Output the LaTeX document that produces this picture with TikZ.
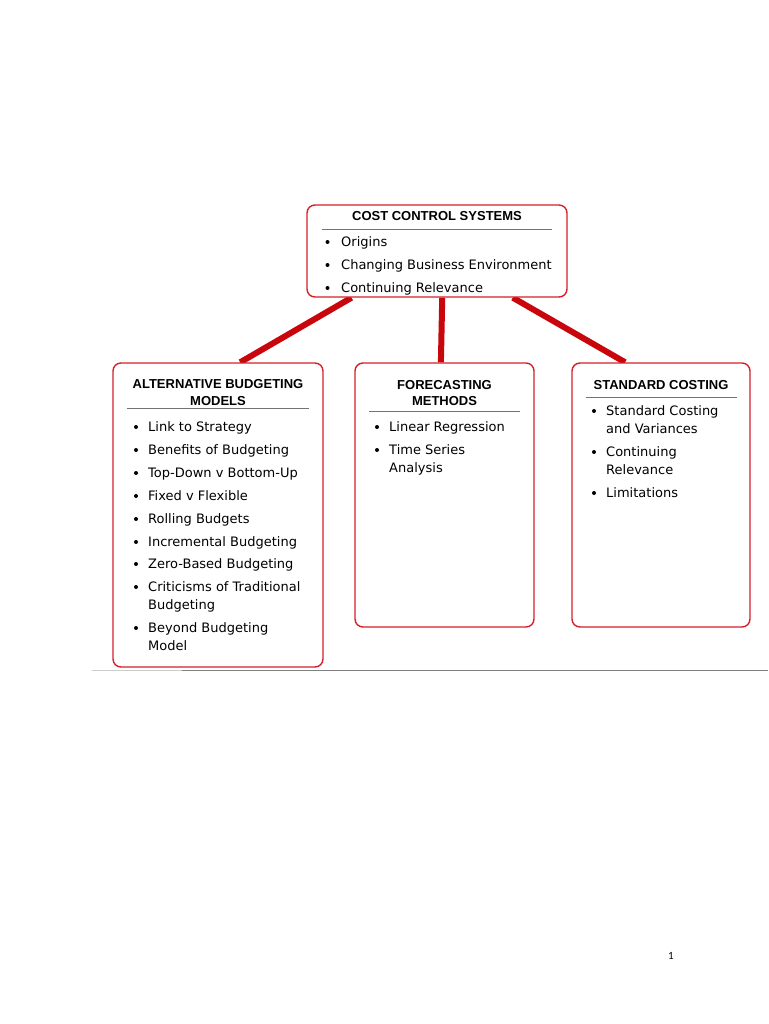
\documentclass[tikz,border=0pt]{standalone}
\usepackage{fontspec}
\setmainfont{DejaVu Sans}
\newfontfamily\headfont{Liberation Sans}
\newfontfamily\pagefont{Carlito}
\usetikzlibrary{positioning, calc, backgrounds}
\definecolor{boxred}{RGB}{212,32,42}
\definecolor{linkred}{RGB}{200,6,12}
\tikzset{
  topicbox/.style={rectangle, rounded corners=8pt, draw=boxred, line width=1.4pt, fill=white},
  heading/.style={font=\headfont\bfseries\fontsize{13}{16.5}\selectfont, align=center, inner sep=0pt},
  rule/.style={draw=black!55, line width=1pt},
  itemtext/.style={font=\fontsize{13}{16}\selectfont, anchor=west, inner sep=0pt,
              text height=9.5pt, text depth=0pt},
  link/.style={draw=linkred, line width=6pt},
}

\begin{document}
\begin{tikzpicture}[x=1pt, y=-1pt]
  \useasboundingbox (0,0) rectangle (768,1024);
  % boxes
  \node[topicbox, minimum width=260pt, minimum height=92pt] (cost) at (437,251) {};
  \node[topicbox, minimum width=210pt, minimum height=304pt] (alt) at (218,515) {};
  \node[topicbox, minimum width=179pt, minimum height=264pt] (fore) at (444.5,495) {};
  \node[topicbox, minimum width=178pt, minimum height=264pt] (std) at (661,495) {};
  % connectors
  \begin{scope}[on background layer]
    \draw[link] ($(cost.south west)!0.173!(cost.south east)$) -- ($(alt.north west)!0.605!(alt.north east)$);
    \draw[link] ($(cost.south west)!0.52!(cost.south east)$) -- ($(fore.north west)!0.48!(fore.north east)$);
    \draw[link] ($(cost.south west)!0.79!(cost.south east)$) -- ($(std.north west)!0.3!(std.north east)$);
  \end{scope}
  % headings
  \node[heading] (costhead) at (437,216) {COST CONTROL SYSTEMS};
  \node[heading] (althead) at (218,392.5) {ALTERNATIVE BUDGETING\\MODELS};
  \node[heading] (forehead) at (444.5,393) {FORECASTING\\METHODS};
  \node[heading] (stdhead) at (661,385) {STANDARD COSTING};
  \draw[rule] (322,230) -- (552,230);
  \draw[rule] (127,408) -- (309,408);
  \draw[rule] (369,411) -- (520,411);
  \draw[rule] (586,397) -- (737,397);
  % items
  \foreach \y/\t in {242/Origins, 265/Changing Business Environment, 288/Continuing Relevance}
    \node[itemtext] at (341,\y) {\t};
  \foreach \y/\t in {427/Link to Strategy, 450/Benefits of Budgeting, 473/Top-Down v Bottom-Up,
      496/Fixed v Flexible, 519/Rolling Budgets, 542/Incremental Budgeting,
      564/Zero-Based Budgeting, 587/Criticisms of Traditional, 605/Budgeting,
      628/Beyond Budgeting, 646/Model}
    \node[itemtext] at (148,\y) {\t};
  \foreach \y/\t in {427/Linear Regression, 450/Time Series, 468/Analysis}
    \node[itemtext] at (389,\y) {\t};
  \foreach \y/\t in {411/Standard Costing, 429/and Variances, 452/Continuing, 470/Relevance, 493/Limitations}
    \node[itemtext] at (606,\y) {\t};
  % bullets
  \foreach \y in {242,265,288}
    \fill (327.5,\y) circle (2pt);
  \foreach \y in {427,450,473,496,519,542,564,587,628}
    \fill (136,\y) circle (2pt);
  \foreach \y in {427,450}
    \fill (377,\y) circle (2pt);
  \foreach \y in {411,452,493}
    \fill (594,\y) circle (2pt);
  % page rule and number
  \draw[draw=black!20, line width=1pt] (92,670.5) -- (182,670.5);
  \draw[draw=black!50, line width=1pt] (182,670.5) -- (768,670.5);
  \node[font=\pagefont\fontsize{11}{13}\selectfont, inner sep=0pt] (pagenum) at (671,956) {1};
\end{tikzpicture}
\end{document}
